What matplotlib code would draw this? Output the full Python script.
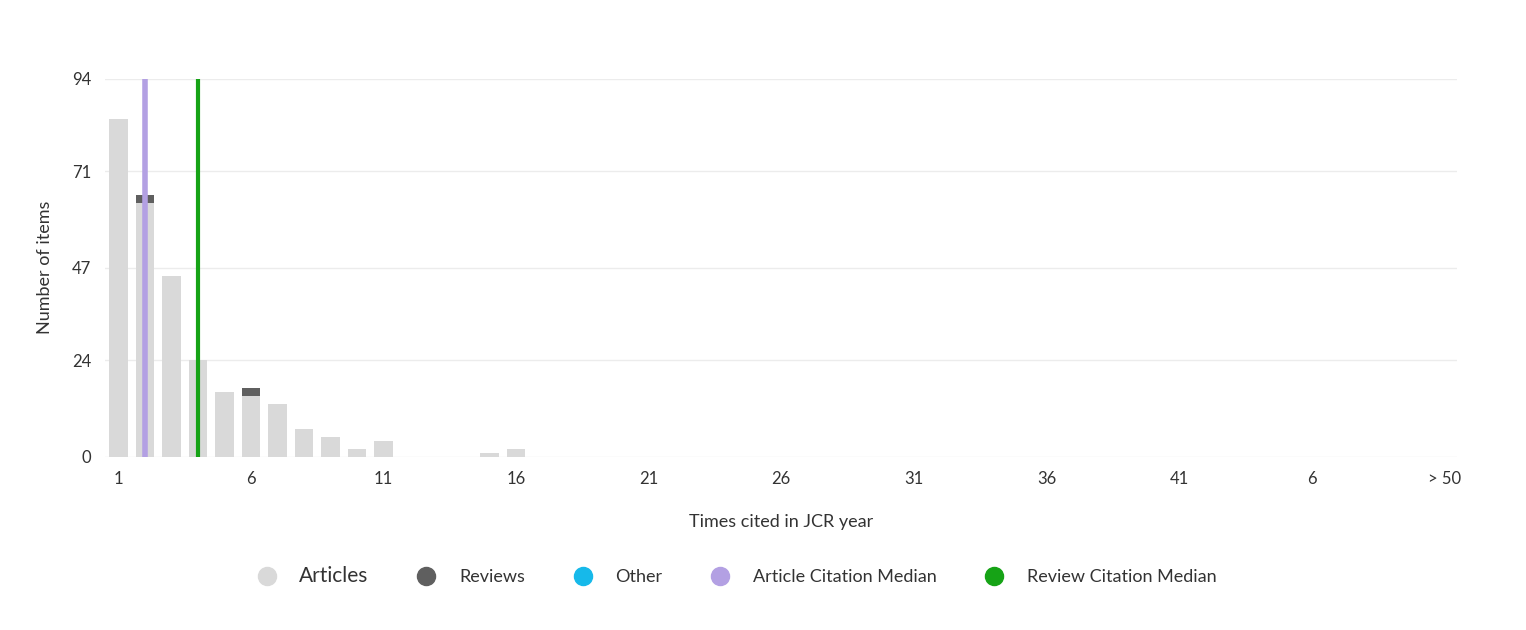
import matplotlib
matplotlib.use("Agg")
import matplotlib.pyplot as plt
from matplotlib.lines import Line2D

plt.rcParams['font.family'] = ['Lato', 'DejaVu Sans']

positions = list(range(1, 52))
articles = [84, 63, 45, 24, 16, 15, 13, 7, 5, 2, 4, 0, 0, 0, 1, 2] + [0] * 35
reviews = [0, 2, 0, 0, 0, 2] + [0] * 45
tick_pos = [1, 6, 11, 16, 21, 26, 31, 36, 41, 46, 51]
tick_labels = ["1", "6", "11", "16", "21", "26", "31", "36", "41", "6", "> 50"]
y_ticks = [0, 24, 47, 71, 94]
article_median = 2
review_median = 4

c_art, c_rev, c_oth, c_am, c_rm = "#d9d9d9", "#5f5f5f", "#16b9ea", "#b3a0e3", "#16a316"

fig = plt.figure(figsize=(15.26, 6.3), dpi=100)
ax = fig.add_axes([0.069, 0.275, 0.886, 0.6])
ax.bar(positions, articles, width=0.7, color=c_art, zorder=2)
ax.bar(positions, reviews, width=0.7, bottom=articles, color=c_rev, zorder=2)
ax.axvline(article_median, color=c_am, lw=4, zorder=3)
ax.axvline(review_median, color=c_rm, lw=3, zorder=3)
ax.set_xlim(0.5, 51.5)
ax.set_ylim(0, 94)
ax.set_yticks(y_ticks)
ax.set_xticks(tick_pos, tick_labels)
ax.grid(axis='y', color="#ececec", lw=1, zorder=0)
for s in ax.spines.values():
    s.set_visible(False)
ax.tick_params(length=0, labelsize=12, colors="#333333", pad=10)
ax.set_ylabel("Number of items", fontsize=13, color="#333333", labelpad=14)
ax.set_xlabel("Times cited in JCR year", fontsize=13, color="#333333", labelpad=20)

names = ["Articles", "Reviews", "Other", "Article Citation Median", "Review Citation Median"]
cols = [c_art, c_rev, c_oth, c_am, c_rm]
handles = [Line2D([], [], marker='o', ls='', markersize=13, color=c) for c in cols]
leg = fig.legend(handles, names, loc='center', bbox_to_anchor=(0.48, 0.085), ncol=5,
                 frameon=False, fontsize=13, handletextpad=0.8, columnspacing=2.2)
for t in leg.get_texts():
    t.set_color("#333333")
leg.get_texts()[0].set_fontsize(15)
fig.savefig("out.png", dpi=100)
